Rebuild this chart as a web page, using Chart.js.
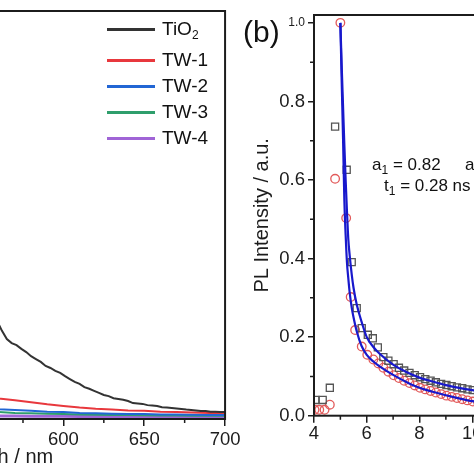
<!DOCTYPE html>
<html>
<head>
<meta charset="utf-8">
<script src="https://cdn.jsdelivr.net/npm/chart.js@4.4.0/dist/chart.umd.min.js"></script>
<style>
    html, body { margin: 0; padding: 0; background: #fff; }
    #wrap { position: relative; width: 474px; height: 474px; overflow: hidden; font-family: "Liberation Sans", Arial, sans-serif; color: #111; }
    canvas { position: absolute; top: 0; }
    #specCanvas { left: -348px; }
    #decayCanvas { left: 230px; }
    .legLine { position: absolute; left: 107px; width: 48px; height: 2.5px; }
    .legText { position: absolute; left: 162px; font-size: 19px; line-height: 20px; white-space: nowrap; }
    .note { position: absolute; font-size: 17px; line-height: 20px; white-space: nowrap; }
    sub { font-size: 12px; line-height: 0; vertical-align: -4px; }
    #panelB { position: absolute; left: 243px; top: 14px; font-size: 30px; line-height: 36px; }
</style>
</head>
<body>
<div id="wrap">
    <canvas id="specCanvas" width="593" height="474"></canvas>
    <canvas id="decayCanvas" width="330" height="474"></canvas>
    <div id="legend"></div>
    <div id="panelB">(b)</div>
    <div class="note" style="left:372px; top:155px;">a<sub>1</sub> = 0.82</div>
    <div class="note" style="left:465px; top:155px;">a<sub>2</sub></div>
    <div class="note" style="left:384px; top:176px;">t<sub>1</sub> = 0.28 ns</div>
</div>
<script>
// ---- panel (a): PL spectra ----
const seriesNames = ["TiO2", "TW-1", "TW-2", "TW-3", "TW-4"];
const seriesColors = ["#333333", "#e8383d", "#2266d4", "#2f9e6c", "#a064d6"];

const wlTiO2 = [553, 556, 559, 562, 565, 568, 571, 574, 577, 580, 583, 586, 589, 592, 595, 598,
    601, 604, 607, 610, 613, 616, 619, 622, 625, 628, 631, 634, 637, 640, 643, 646, 649, 652,
    655, 658, 661, 664, 667, 670, 673, 676, 679, 682, 685, 688, 691, 694, 697, 700];
const tio2 = [0.277, 0.260, 0.240, 0.216, 0.196, 0.186, 0.181, 0.172, 0.164, 0.154, 0.147, 0.140,
    0.130, 0.125, 0.118, 0.113, 0.105, 0.098, 0.091, 0.086, 0.078, 0.074, 0.069, 0.064, 0.059,
    0.056, 0.051, 0.049, 0.047, 0.044, 0.039, 0.038, 0.037, 0.034, 0.033, 0.032, 0.029, 0.028,
    0.027, 0.026, 0.0245, 0.023, 0.022, 0.021, 0.0196, 0.0196, 0.018, 0.018, 0.017, 0.017];

const wlTW = [555, 560, 570, 580, 590, 600, 610, 620, 630, 640, 650, 660, 670, 680, 690, 700];
const tw1 = [0.053, 0.050, 0.046, 0.041, 0.036, 0.032, 0.028, 0.025, 0.023, 0.021, 0.020, 0.018, 0.017, 0.016, 0.015, 0.015];
const tw2 = [0.026, 0.024, 0.022, 0.020, 0.018, 0.017, 0.015, 0.014, 0.013, 0.0125, 0.012, 0.011, 0.0108, 0.0105, 0.010, 0.0098];
const tw3 = [0.018, 0.017, 0.015, 0.014, 0.013, 0.012, 0.011, 0.0105, 0.010, 0.0095, 0.009, 0.0088, 0.0085, 0.0082, 0.008, 0.008];
const tw4 = [0.008, 0.0075, 0.0072, 0.007, 0.0068, 0.0066, 0.0064, 0.0062, 0.006, 0.0058, 0.0056, 0.0055, 0.0053, 0.0052, 0.005, 0.005];

// ---- panel (b): decay curves ----
const tSquares = [4.05, 4.33, 4.6, 4.8, 5.24, 5.43, 5.62, 5.81, 6.04, 6.23, 6.42, 6.63, 6.82, 7.02, 7.22,
    7.42, 7.62, 7.82, 8.02, 8.22, 8.42, 8.62, 8.82, 9.02, 9.22, 9.42, 9.62, 9.82, 10.02, 10.22];
const squares = [0.04, 0.04, 0.071, 0.736, 0.626, 0.391, 0.274, 0.223, 0.206, 0.197, 0.174, 0.149, 0.140,
    0.131, 0.122, 0.115, 0.109, 0.103, 0.098, 0.093, 0.089, 0.085, 0.081, 0.078, 0.075, 0.072, 0.070,
    0.067, 0.065, 0.063];
const tCircles = [4.02, 4.2, 4.4, 4.6, 4.8, 5.0, 5.22, 5.39, 5.56, 5.81, 6.02, 6.25, 6.44, 6.63, 6.82,
    7.02, 7.22, 7.42, 7.62, 7.82, 8.02, 8.22, 8.42, 8.62, 8.82, 9.02, 9.22, 9.42, 9.62, 9.82, 10.02, 10.22];
const circles = [0.015, 0.015, 0.015, 0.028, 0.603, 1.0, 0.503, 0.302, 0.218, 0.176, 0.155, 0.143, 0.133,
    0.122, 0.112, 0.103, 0.096, 0.089, 0.083, 0.077, 0.071, 0.067, 0.063, 0.059, 0.055, 0.051, 0.048,
    0.045, 0.042, 0.039, 0.036, 0.034];
const tFit = [5.0, 5.05, 5.1, 5.15, 5.2, 5.25, 5.3, 5.35, 5.43, 5.5, 5.62, 5.8, 6.0, 6.25, 6.5, 7.0,
    7.5, 8.0, 8.5, 9.0, 9.5, 10.0, 10.5, 11.0];
const fitUpper = [1.0, 0.89, 0.79, 0.69, 0.60, 0.52, 0.45, 0.41, 0.36, 0.325, 0.283, 0.24, 0.2, 0.175,
    0.157, 0.13, 0.111, 0.097, 0.087, 0.078, 0.071, 0.065, 0.06, 0.056];
const fitLower = [1.0, 0.85, 0.71, 0.55, 0.46, 0.39, 0.35, 0.315, 0.275, 0.25, 0.215, 0.178, 0.155, 0.138,
    0.125, 0.104, 0.086, 0.071, 0.061, 0.052, 0.044, 0.037, 0.033, 0.03];

const yTicksB = [0, 0.2, 0.4, 0.6, 0.8, 1.0];

const FONT = "'Liberation Sans', Arial, sans-serif";
const INK = "#1c1c1c";

function pts(xs, ys) {
    return xs.map((x, i) => ({ x: x, y: ys[i] }));
}

// frame box + short minor ticks (Chart.js has no minor ticks)
const framePlugin = {
    id: 'frame',
    afterDraw(chart, args, opts) {
        const { ctx, chartArea: a, scales } = chart;
        ctx.save();
        ctx.strokeStyle = INK;
        ctx.lineWidth = 2;
        ctx.strokeRect(a.left, a.top, a.right - a.left, a.bottom - a.top);
        ctx.lineWidth = 1.5;
        ctx.beginPath();
        (opts.xMinor || []).forEach(v => {
            const px = scales.x.getPixelForValue(v);
            ctx.moveTo(px, a.bottom);
            ctx.lineTo(px, a.bottom + 4);
        });
        (opts.yMinor || []).forEach(v => {
            const py = scales.y.getPixelForValue(v);
            ctx.moveTo(a.left, py);
            ctx.lineTo(a.left - 4, py);
        });
        ctx.stroke();
        ctx.restore();
    }
};

// Spectra chart
const specData = [pts(wlTiO2, tio2), pts(wlTW, tw1), pts(wlTW, tw2), pts(wlTW, tw3), pts(wlTW, tw4)];
new Chart(document.getElementById("specCanvas").getContext('2d'), {
    type: 'line',
    data: {
        datasets: specData.map((d, i) => ({
            label: seriesNames[i],
            data: d,
            borderColor: seriesColors[i],
            borderWidth: i === 4 ? 3 : 2,
            pointRadius: 0,
            tension: 0
        }))
    },
    options: {
        responsive: false,
        maintainAspectRatio: false,
        devicePixelRatio: 1,
        animation: false,
        layout: { padding: { left: 80, right: 16, top: 11, bottom: 0 } },
        plugins: {
            legend: { display: false },
            tooltip: { enabled: false },
            frame: { xMinor: [425, 475, 525, 575, 625, 675] }
        },
        scales: {
            x: {
                type: 'linear', min: 395, max: 700,
                afterFit: s => { s.height = 55; },
                grid: { drawOnChartArea: false, tickLength: 7, color: INK, lineWidth: 1.5 },
                border: { display: false },
                ticks: { stepSize: 50, includeBounds: false, padding: 4.5, color: INK,
                    font: { family: FONT, size: 18.5, lineHeight: 1 } },
                title: { display: true, text: "Wavelength / nm", color: INK, padding: { top: 0, bottom: 5 },
                    font: { family: FONT, size: 20, lineHeight: 1.2 } }
            },
            y: { display: false, min: 0, max: 1 }
        }
    },
    plugins: [framePlugin]
});

// Decay chart
new Chart(document.getElementById("decayCanvas").getContext('2d'), {
    type: 'scatter',
    data: {
        datasets: [
            { label: "fit 1", data: pts(tFit, fitUpper), showLine: true, borderColor: "#1818cc", borderWidth: 2.2,
              pointRadius: 0, cubicInterpolationMode: 'monotone' },
            { label: "fit 2", data: pts(tFit, fitLower), showLine: true, borderColor: "#1818cc", borderWidth: 2.2,
              pointRadius: 0, cubicInterpolationMode: 'monotone' },
            { label: "TiO2", data: pts(tSquares, squares), pointStyle: 'rect', pointRadius: 5,
              borderColor: "#555555", backgroundColor: "rgba(0,0,0,0)", pointBorderWidth: 1.3 },
            { label: "TW", data: pts(tCircles, circles), pointStyle: 'circle', pointRadius: 4.3,
              borderColor: "#e25a5a", backgroundColor: "rgba(0,0,0,0)", pointBorderWidth: 1.3 }
        ]
    },
    options: {
        responsive: false,
        maintainAspectRatio: false,
        devicePixelRatio: 1,
        animation: false,
        layout: { padding: { left: 0, right: 35, top: 15, bottom: 0 } },
        plugins: {
            legend: { display: false },
            tooltip: { enabled: false },
            frame: { xMinor: [5, 7, 9, 11], yMinor: [0.1, 0.3, 0.5, 0.7, 0.9] }
        },
        scales: {
            x: {
                type: 'linear', min: 4, max: 12,
                afterFit: s => { s.height = 58.3; },
                grid: { drawOnChartArea: false, tickLength: 7, color: INK, lineWidth: 1.5 },
                border: { display: false },
                ticks: { stepSize: 2, includeBounds: false, padding: 2, color: INK,
                    font: { family: FONT, size: 18.5, lineHeight: 1 } }
            },
            y: {
                min: 0, max: 1.02,
                afterFit: s => { s.width = 84; },
                afterBuildTicks: s => { s.ticks = yTicksB.map(v => ({ value: v })); },
                grid: { drawOnChartArea: false, tickLength: 6, color: INK, lineWidth: 1.5 },
                border: { display: false },
                ticks: { padding: 3, color: INK,
                    callback: v => v.toFixed(1),
                    font: c => (c.tick && c.tick.value === 1)
                        ? { family: FONT, size: 12, lineHeight: 1 }
                        : { family: FONT, size: 18.5, lineHeight: 1 } },
                title: { display: true, text: "PL Intensity / a.u.", color: INK, padding: { top: 22, bottom: 0 },
                    font: { family: FONT, size: 20, lineHeight: 1 } }
            }
        }
    },
    plugins: [framePlugin]
});

// Legend for panel (a), built from the series arrays
const legendY = [29, 60, 86, 112, 138];
const legend = document.getElementById("legend");
seriesNames.forEach((name, i) => {
    const line = document.createElement("div");
    line.className = "legLine";
    line.style.top = (legendY[i] - 1) + "px";
    line.style.background = seriesColors[i];
    legend.appendChild(line);
    const txt = document.createElement("div");
    txt.className = "legText";
    txt.style.top = (legendY[i] - 10) + "px";
    txt.innerHTML = name === "TiO2" ? "TiO<sub>2</sub>" : name;
    legend.appendChild(txt);
});
</script>
</body>
</html>
